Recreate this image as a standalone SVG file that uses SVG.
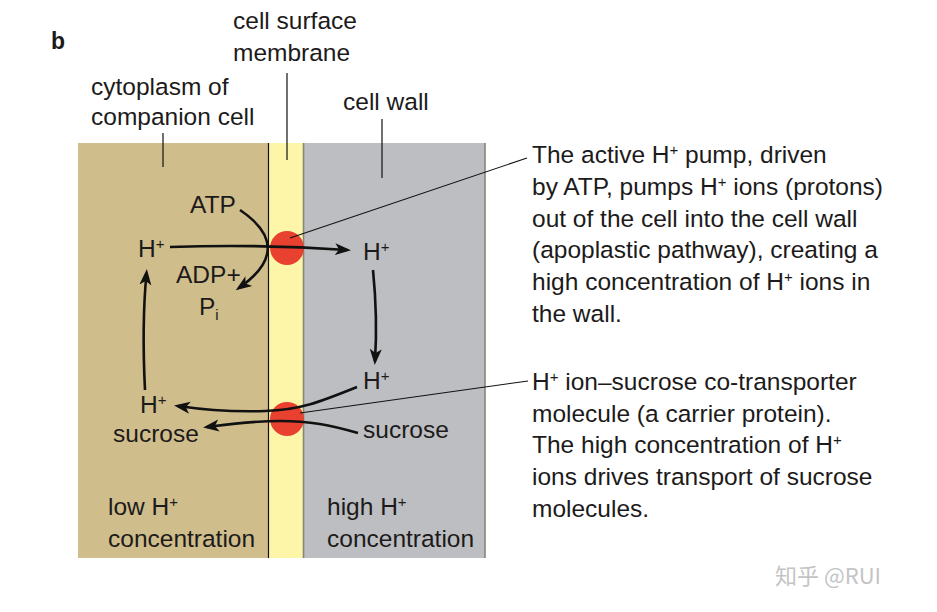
<svg xmlns="http://www.w3.org/2000/svg" width="937" height="612" viewBox="0 0 937 612">
<style>
text{font-family:"Liberation Sans","DejaVu Sans",sans-serif;font-size:24.5px;fill:#1c1a1a}
.sup{font-size:15px}
.arr{fill:none;stroke:#111;stroke-width:2.6;marker-end:url(#ah)}
.ptr{stroke:#111;stroke-width:1.1;fill:none}
.lead{stroke:#111;stroke-width:1.2}
.edge{stroke:#86867a;stroke-width:1.6}
</style>
<defs>
<marker id="ah" markerUnits="userSpaceOnUse" markerWidth="18" markerHeight="14" refX="12" refY="7" orient="auto">
<path d="M0,1 L16,7 L0,13 L4,7 Z" fill="#111"/>
</marker>
</defs>
<rect width="937" height="612" fill="#ffffff"/>
<g id="regions">
<rect id="cytoplasm" x="78" y="143" width="190" height="415" fill="#cfbd8b"/>
<rect id="membrane" x="268" y="143" width="35" height="415" fill="#fdf6a8"/>
<rect id="cellwall" x="303" y="143" width="182" height="415" fill="#bdbec1"/>
<line class="edge" x1="303.5" y1="143" x2="303.5" y2="558"/>
<line class="edge" x1="485" y1="143" x2="485" y2="558"/>
<line x1="268.5" y1="143" x2="268.5" y2="558" stroke="#111" stroke-width="1.2"/>
</g>
<g id="leaders">
<line class="lead" x1="163" y1="133" x2="163" y2="167"/>
<line class="lead" x1="287" y1="73" x2="287" y2="160"/>
<line class="lead" x1="382" y1="119" x2="382" y2="178"/>
</g>
<g id="pump">
<circle cx="287" cy="248" r="17" fill="#e8412f"/>
</g>
<g id="cotransporter">
<circle cx="287" cy="419" r="17" fill="#e8412f"/>
</g>
<g id="connectors">
<path class="arr" d="M170,247 C 230,245 290,246 347,250"/>
<path class="arr" d="M240,210 Q 296,248 239,288"/>
<path class="arr" d="M373,270 C 376,300 377,330 375,361"/>
<path class="arr" d="M145,390 C 143,350 143,310 146.5,273"/>
<path class="arr" d="M357,387 C 320,402 300,410 265,411 C 230,412 205,410 178,406"/>
<path class="arr" d="M358,433 C 330,425 310,421 280,421 C 250,421 230,424 207,427"/>
<line class="ptr" x1="290" y1="238" x2="527" y2="158"/>
<line class="ptr" x1="300" y1="413" x2="528" y2="381"/>
</g>
<g id="labels">
<text x="51" y="49" style="font-weight:bold;font-size:23px">b</text>
<text x="233" y="29">cell surface</text>
<text x="233" y="61">membrane</text>
<text x="91" y="95">cytoplasm of</text>
<text x="91" y="125">companion cell</text>
<text x="343" y="110">cell wall</text>
<text x="190" y="213">ATP</text>
<text x="138" y="257">H<tspan class="sup" dy="-8">+</tspan></text>
<text x="176" y="283">ADP+</text>
<text x="199" y="315">P<tspan class="sup" dy="5">i</tspan></text>
<text x="363" y="260">H<tspan class="sup" dy="-8">+</tspan></text>
<text x="363" y="389">H<tspan class="sup" dy="-8">+</tspan></text>
<text x="140" y="413">H<tspan class="sup" dy="-8">+</tspan></text>
<text x="113" y="442">sucrose</text>
<text x="363" y="438">sucrose</text>
<text x="108" y="515">low H<tspan class="sup" dy="-8">+</tspan></text>
<text x="108" y="547">concentration</text>
<text x="327" y="515">high H<tspan class="sup" dy="-8">+</tspan></text>
<text x="327" y="547">concentration</text>
</g>
<g id="note-pump">
<text x="532" y="163">The active H<tspan class="sup" dy="-8">+</tspan><tspan dy="8"> pump, driven</tspan></text>
<text x="532" y="195">by ATP, pumps H<tspan class="sup" dy="-8">+</tspan><tspan dy="8"> ions (protons)</tspan></text>
<text x="532" y="227">out of the cell into the cell wall</text>
<text x="532" y="258">(apoplastic pathway), creating a</text>
<text x="532" y="290">high concentration of H<tspan class="sup" dy="-8">+</tspan><tspan dy="8"> ions in</tspan></text>
<text x="532" y="322">the wall.</text>
</g>
<g id="note-cotransporter">
<text x="532" y="390">H<tspan class="sup" dy="-8">+</tspan><tspan dy="8"> ion–sucrose co-transporter</tspan></text>
<text x="532" y="422">molecule (a carrier protein).</text>
<text x="532" y="453">The high concentration of H<tspan class="sup" dy="-8">+</tspan></text>
<text x="532" y="485">ions drives transport of sucrose</text>
<text x="532" y="517">molecules.</text>
</g>
<text x="775" y="584" style="font-family:'Noto Sans CJK SC','Liberation Sans',sans-serif;font-size:22px;fill:#c4c4c4">知乎 @RUI</text>
</svg>
